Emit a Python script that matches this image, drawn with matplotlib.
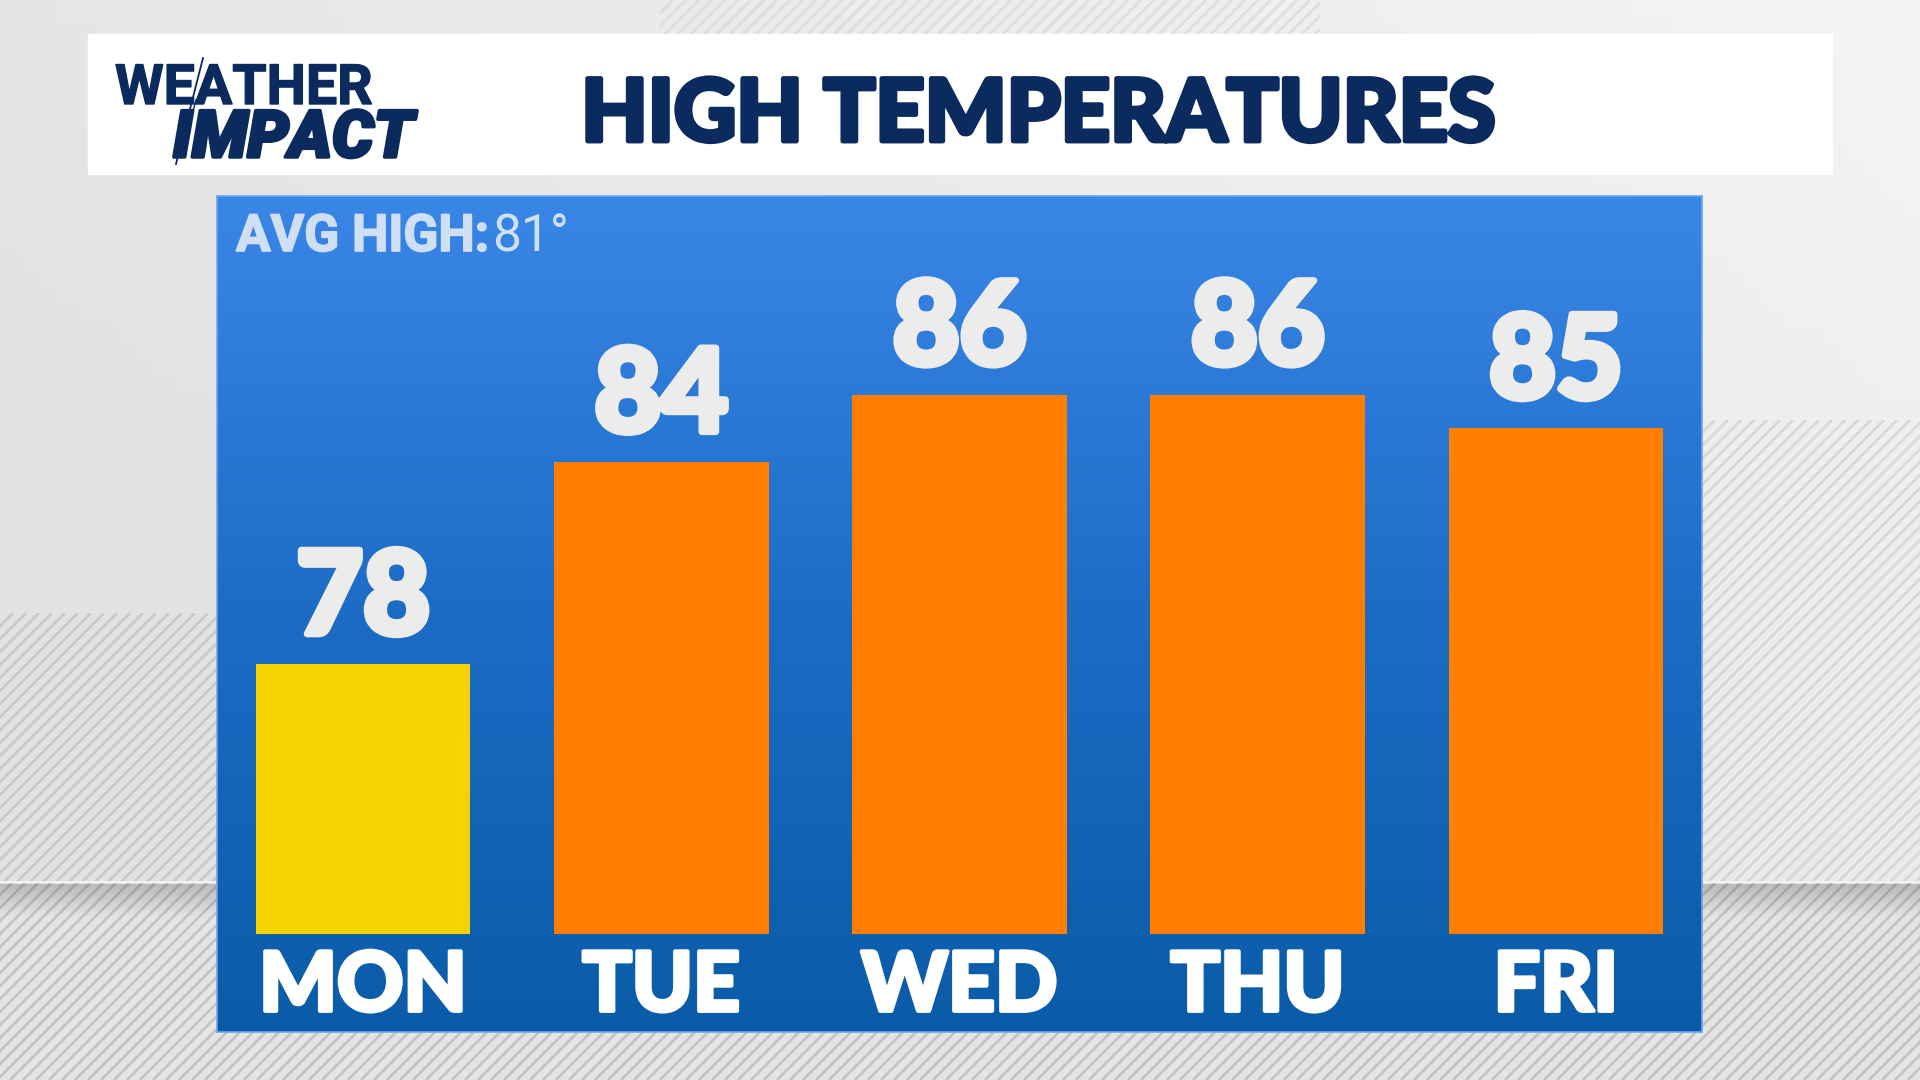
import numpy as np
import matplotlib.pyplot as plt
import matplotlib.patheffects as pe
from matplotlib.patches import Rectangle
from matplotlib.collections import LineCollection
from matplotlib.colors import LinearSegmentedColormap

# data
days = ['MON', 'TUE', 'WED', 'THU', 'FRI']
highs = [78, 84, 86, 86, 85]
bar_colors = ['#f5d300', '#ff7d00', '#ff7d00', '#ff7d00', '#ff7d00']
avg_high = 81
title = 'HIGH TEMPERATURES'
base_temp = 70

W, H = 1920, 1080
fig = plt.figure(figsize=(19.2, 10.8), dpi=100)

# background layer in pixel coords (y down)
bg = fig.add_axes([0, 0, 1, 1])
bg.set_xlim(0, W)
bg.set_ylim(H, 0)
bg.axis('off')

grey = LinearSegmentedColormap.from_list('g', ['#e2e2e2', '#f4f4f4'])
yy, xx = np.mgrid[0:1:60j, 0:1:100j]
bg.imshow(np.clip(xx * 0.8 - yy * 0.6 + 0.2, 0, 1), extent=[0, W, H, 0],
          cmap=grey, aspect='auto', zorder=0)


def stripes(x0, y0, x1, y1, color='#c9c9c9', lw=2.0, alpha=1.0, step=13):
    box = Rectangle((x0, y0), x1 - x0, y1 - y0, facecolor='none', edgecolor='none')
    bg.add_patch(box)
    h = y1 - y0
    segs = [[(c, y1), (c + h, y0)] for c in np.arange(x0 - h, x1, step)]
    lc = LineCollection(segs, colors=color, linewidths=lw, alpha=alpha, zorder=1)
    bg.add_collection(lc)
    lc.set_clip_path(box)


def heavy(color, w):
    # thicken the glyphs a bit, the broadcast font is heavier than Lato Bold
    return [pe.withStroke(linewidth=w, foreground=color)]


# striped areas
stripes(0, 613, 217, 882)
stripes(1702, 420, W, 882, alpha=0.6)
bg.add_patch(Rectangle((0, 882), W, H - 882, color='#e4e4e4', zorder=1))
stripes(0, 882, W, H, color='#c4c4c4')
shade = LinearSegmentedColormap.from_list('s', [(0, 0, 0, 0.18), (0, 0, 0, 0)])
bg.imshow(np.linspace(0, 1, 20)[:, None], extent=[0, W, 918, 884], cmap=shade,
          aspect='auto', zorder=2)
bg.plot([0, W], [882, 882], color='#f2f2f2', lw=1.5, zorder=2)
stripes(660, 0, 1320, 37, color='#d8d8d8', alpha=0.7)

# header
bg.add_patch(Rectangle((88, 34), 1832 - 88, 174 - 34, color='white', zorder=3))
navy = '#0b2a5e'
bg.text(115, 104, 'WEATHER', fontsize=40, fontweight='bold', family=['Roboto', 'DejaVu Sans'],
        color=navy, ha='left', va='baseline', zorder=4, path_effects=heavy(navy, 1.0))
bg.text(173, 157, 'IMPACT', fontsize=47, fontweight='black', style='italic',
        family=['Roboto', 'DejaVu Sans'], color=navy, ha='left', va='baseline', zorder=4,
        path_effects=heavy(navy, 2.5))
bg.plot([176, 203], [164, 58], color=navy, lw=1.3, zorder=4)
bg.plot([183, 196], [150, 100], color=navy, lw=1.0, zorder=4)
bg.text(1038, 141, title, fontsize=62, fontweight='black', family=['Lato', 'DejaVu Sans'],
        color=navy, ha='center', va='baseline', zorder=4, path_effects=heavy(navy, 3.5))

# chart panel
px_per_deg = 33.7
y_lo = base_temp - (1032 - 934) / px_per_deg
y_hi = base_temp + (934 - 196) / px_per_deg
ax = fig.add_axes([217 / W, 1 - 1032 / H, (1702 - 217) / W, (1032 - 196) / H])
x = np.arange(len(days))
blue = LinearSegmentedColormap.from_list('b', ['#0a5ba7', '#1c6cc6', '#3a86e7'])
ax.imshow(np.linspace(0, 1, 200)[:, None], extent=[-0.49, 4.49, y_lo, y_hi],
          origin='lower', cmap=blue, aspect='auto', zorder=0)

ax.bar(x, np.array(highs) - base_temp, bottom=base_temp, width=0.72,
       color=bar_colors, zorder=2)

num_fx = [pe.withSimplePatchShadow(offset=(2, -2), shadow_rgbFace='#1a3050', alpha=0.45),
          pe.withStroke(linewidth=5, foreground='#ececec')]
for i, v in enumerate(highs):
    ax.annotate(str(v), (x[i], v), xytext=(0, 22), textcoords='offset points',
                ha='center', va='baseline', fontsize=83, fontweight='black',
                family=['Lato', 'DejaVu Sans'], color='#ececec', path_effects=num_fx)
    ax.text(x[i], 67.72, days[i], ha='center', va='baseline', fontsize=59,
            fontweight='black', family=['Lato', 'DejaVu Sans'], color='white', zorder=3,
            path_effects=heavy('white', 3))

lab = ax.text(0.0128, 1 - (251 - 196) / (1032 - 196), 'AVG HIGH:', transform=ax.transAxes,
              fontsize=37, fontweight='bold', family=['Roboto', 'DejaVu Sans'],
              color='#cfe0f4', ha='left', va='baseline', path_effects=heavy('#cfe0f4', 1.2))
ax.annotate(f'{avg_high}°', xy=(1, 0), xycoords=lab, xytext=(2, 0),
            textcoords='offset points', fontsize=37,
            family=['Roboto', 'DejaVu Sans'], color='#cfe0f4', ha='left', va='bottom')

ax.set_xlim(-0.49, 4.49)
ax.set_ylim(y_lo, y_hi)
ax.set_xticks([])
ax.set_yticks([])
for s in ax.spines.values():
    s.set_color('#6ea6ec')
    s.set_linewidth(1.2)

fig.savefig('out.png', dpi=100)
